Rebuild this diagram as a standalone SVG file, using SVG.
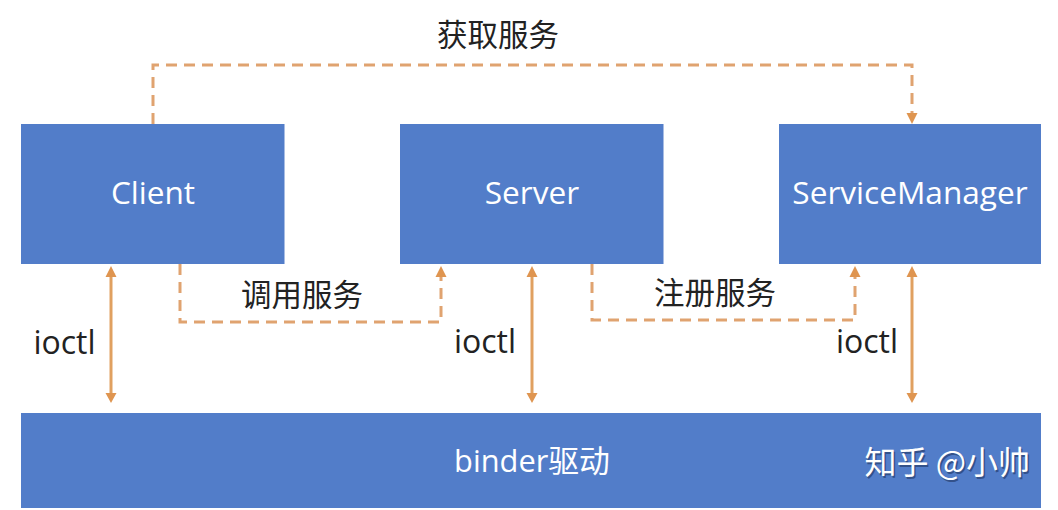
<svg xmlns="http://www.w3.org/2000/svg" width="1058" height="510" viewBox="0 0 1058 510">
<style>
.box{fill:#527dc9}
.w{fill:#fff;font-family:"Open Sans","Noto Sans","Noto Sans CJK SC",sans-serif;font-size:31.6px;text-anchor:middle}
.k{fill:#222;font-family:"Open Sans","Noto Sans","Noto Sans CJK SC",sans-serif;font-size:30.5px;text-anchor:middle}
.i{fill:#222;font-family:"Open Sans","Noto Sans",sans-serif;font-size:32px;text-anchor:middle}
.d{fill:none;stroke:#e0a370;stroke-width:3;stroke-dasharray:11 7}
.s{fill:none;stroke:#e0a060;stroke-width:3}
.h{fill:#df9550}
.wm{font-family:"Noto Sans CJK SC",sans-serif;font-size:32px;font-weight:400;text-anchor:end}
</style>
<rect width="1058" height="510" fill="#fff"/>
<g id="connectors">
<path class="d" d="M153 124V65H912V114"/>
<path class="h" d="M906.500 113H917.500L912 124Z"/>
<path class="d" d="M180 264V322H441V276"/>
<path class="h" d="M435.500 277H446.500L441 266Z"/>
<path class="d" d="M592 264V320H855V276"/>
<path class="h" d="M849.500 277H860.500L855 266Z"/>
<path class="s" d="M111 275V395"/>
<path class="h" d="M105.500 277H116.500L111 266ZM105.500 393H116.500L111 403Z"/>
<path class="s" d="M532 275V395"/>
<path class="h" d="M526.500 277H537.500L532 266ZM526.500 393H537.500L532 403Z"/>
<path class="s" d="M912 275V395"/>
<path class="h" d="M906.500 277H917.500L912 266ZM906.500 393H917.500L912 403Z"/>
</g>
<g id="client"><rect class="box" x="21" y="124" width="263.500" height="140"/><text class="w" x="153" y="204">Client</text></g>
<g id="server"><rect class="box" x="400" y="124" width="263.500" height="140"/><text class="w" x="532" y="204">Server</text></g>
<g id="servicemanager"><rect class="box" x="779" y="124" width="262" height="140"/><text class="w" x="910" y="204">ServiceManager</text></g>
<g id="binder"><rect class="box" x="21" y="413" width="1020" height="95"/><text class="w" x="532" y="472" style="font-size:30.8px">binder驱动</text>
<text class="wm" x="1031.500" y="475.500" fill="#33518a">知乎 @小帅</text>
<text class="wm" x="1030" y="474" fill="#fff">知乎 @小帅</text></g>
<g id="labels">
<text class="k" x="498" y="46">获取服务</text>
<text class="k" x="302" y="306">调用服务</text>
<text class="k" x="715" y="304">注册服务</text>
<text class="i" x="64.500" y="354">ioctl</text>
<text class="i" x="485" y="353">ioctl</text>
<text class="i" x="867" y="353">ioctl</text>
</g>
</svg>
